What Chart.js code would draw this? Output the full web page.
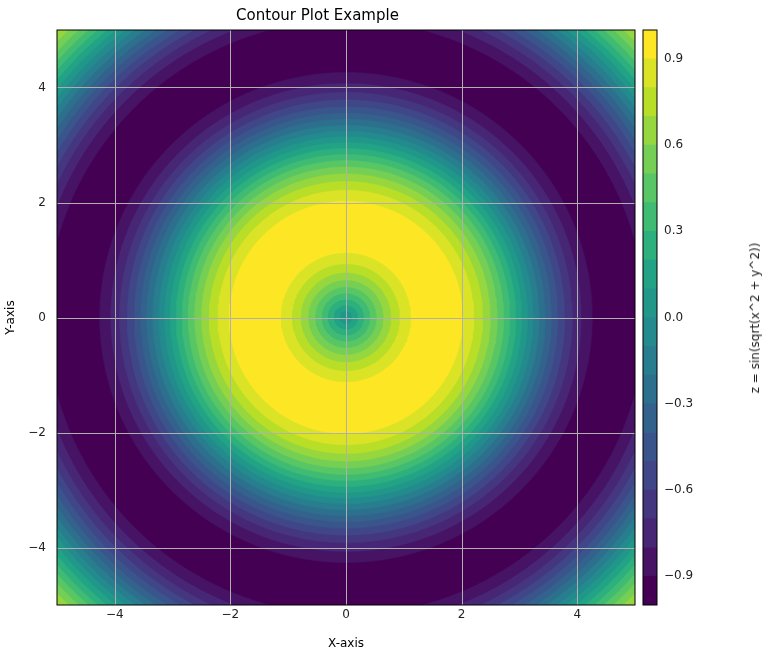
<!DOCTYPE html>
<html><head><meta charset="utf-8">
<script src="https://cdn.jsdelivr.net/npm/chart.js@4"></script>
<style>
body{margin:0;background:#fff;width:768px;height:655px;overflow:hidden;font-family:"DejaVu Sans",sans-serif}
.box{position:absolute;top:0;height:655px}
#cblabel{position:absolute;left:755px;top:318px;transform:translate(-50%,-50%) rotate(-90deg);white-space:nowrap;font-size:12px;color:#222}
</style></head><body>
<div class="box" style="left:0;width:640px"><canvas id="main"></canvas></div>
<div class="box" style="left:630px;width:138px"><canvas id="cb"></canvas></div>
<div id="cblabel">z = sin(sqrt(x^2 + y^2))</div>
<script>
// contour levels (band lower bounds) of z = sin(sqrt(x^2+y^2))
const levels = [-1.0,-0.9,-0.8,-0.7,-0.6,-0.5,-0.4,-0.3,-0.2,-0.1,0.0,0.1,0.2,0.3,0.4,0.5,0.6,0.7,0.8,0.9,1.0];
// concentric filled regions: outer radius of each disc and band index of its level
const ringRadii = [7.10,7.0586,6.9267,6.8068,6.6947,6.5879,6.4846,6.3834,6.2832,6.1830,6.0818,5.9785,5.8717,5.7596,5.6397,5.5078,5.3559,5.1634,4.2614,4.0689,3.9170,3.7851,3.6652,3.5531,3.4463,3.3430,3.2418,3.1416,3.0414,2.9402,2.8369,2.7301,2.6180,2.4981,2.3662,2.2143,2.0218,1.1198,0.9273,0.7754,0.6435,0.5236,0.4115,0.3047,0.2014,0.1002];
const ringBand  = [17,16,15,14,13,12,11,10,9,8,7,6,5,4,3,2,1,0,1,2,3,4,5,6,7,8,9,10,11,12,13,14,15,16,17,18,19,18,17,16,15,14,13,12,11,10];
const xTicks = [-4,-2,0,2,4];
const yTicks = [-4,-2,0,2,4];
const cbTicks = [-0.9,-0.6,-0.3,0.0,0.3,0.6,0.9];

const stops=[[68,1,84],[72,36,117],[65,68,135],[53,95,141],[42,120,142],[33,145,140],[34,168,132],[68,191,112],[122,209,81],[189,223,38],[253,231,37]];
function viridis(t){const p=t*10,i=Math.min(9,Math.floor(p)),f=p-i;const a=stops[i],b=stops[i+1];
 return `rgb(${a.map((v,k)=>Math.round(v+(b[k]-v)*f)).join(',')})`;}
const bandColor=i=>viridis(i/19);
const fmt=v=>String(Math.round(v*10)/10===v?v:v).replace('-','\u2212');

const datasets=ringRadii.map((r,i)=>{
 const pts=[];for(let k=0;k<=180;k++){const a=k/180*2*Math.PI;pts.push({x:r*Math.cos(a),y:r*Math.sin(a)});}
 const c=bandColor(ringBand[i]);
 return {data:pts,showLine:true,fill:'shape',backgroundColor:c,borderColor:c,borderWidth:0.5,pointRadius:0,order:ringRadii.length-i};
});
const font={family:'"DejaVu Sans", sans-serif',size:12};
const gridPlugin={id:'grid',afterDatasetsDraw(ch){const {ctx,chartArea:a,scales:{x,y}}=ch;ctx.save();ctx.strokeStyle='#b0b0b0';ctx.lineWidth=1;
 xTicks.forEach(v=>{const p=Math.round(x.getPixelForValue(v))+0.5;ctx.beginPath();ctx.moveTo(p,a.top);ctx.lineTo(p,a.bottom);ctx.stroke();});
 yTicks.forEach(v=>{const p=Math.round(y.getPixelForValue(v))+0.5;ctx.beginPath();ctx.moveTo(a.left,p);ctx.lineTo(a.right,p);ctx.stroke();});
 ctx.strokeStyle='#000';ctx.strokeRect(a.left,a.top,a.right-a.left,a.bottom-a.top);ctx.restore();}};
new Chart(document.getElementById('main'),{type:'scatter',data:{datasets},plugins:[gridPlugin],
 options:{responsive:true,maintainAspectRatio:false,animation:false,layout:{padding:{left:0,right:5,top:0,bottom:0}},
 plugins:{legend:{display:false},tooltip:{enabled:false},title:{display:true,text:'Contour Plot Example',color:'#000',font:{family:font.family,size:15,weight:'normal'},padding:{top:7,bottom:5}}},
 scales:{
  x:{type:'linear',min:-5,max:5,afterBuildTicks:s=>{s.ticks=xTicks.map(v=>({value:v}));},afterFit:s=>{s.height=50;},
   ticks:{color:'#222',font,callback:fmt,maxRotation:0},grid:{display:false,drawTicks:false},border:{display:false},
   title:{display:true,text:'X-axis',color:'#000',font,padding:{top:4}}},
  y:{type:'linear',min:-5,max:5,afterBuildTicks:s=>{s.ticks=yTicks.map(v=>({value:v}));},afterFit:s=>{s.width=57;},
   ticks:{color:'#222',font,callback:fmt},grid:{display:false},border:{display:false},
   title:{display:true,text:'Y-axis',color:'#000',font,padding:{bottom:2}}}}}});

const cbData=levels.slice(0,-1).map((lo,i)=>({data:[[lo,levels[i+1]]],backgroundColor:bandColor(i),borderWidth:0,barPercentage:1,categoryPercentage:1,grouped:false}));
new Chart(document.getElementById('cb'),{type:'bar',data:{labels:['z'],datasets:cbData},
 plugins:[{id:'frame',afterDatasetsDraw(ch){const a=ch.chartArea,c=ch.ctx;c.save();c.strokeStyle='#000';c.lineWidth=1;c.strokeRect(a.left,a.top,a.right-a.left,a.bottom-a.top);c.restore();}}],
 options:{responsive:true,maintainAspectRatio:false,animation:false,layout:{padding:{left:13,right:0,top:30,bottom:50}},
 plugins:{legend:{display:false},tooltip:{enabled:false}},
 scales:{x:{display:false},
  y:{position:'right',min:-1,max:1,afterBuildTicks:s=>{s.ticks=cbTicks.map(v=>({value:v}));},afterFit:s=>{s.width=111;},
   ticks:{color:'#222',font,callback:v=>v.toFixed(1).replace('-','\u2212')},grid:{display:false,drawTicks:true,tickLength:4},border:{display:false}}}}});
</script></body></html>
